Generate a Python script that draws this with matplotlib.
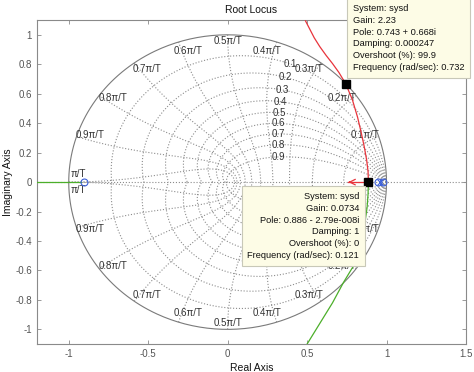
import numpy as np
import matplotlib
matplotlib.use("Agg")
import matplotlib.pyplot as plt

plt.rcParams["font.family"] = ["Liberation Sans", "DejaVu Sans"]

# root locus branches
red_re = [0.886, 0.884, 0.875, 0.860, 0.840, 0.818, 0.785, 0.743, 0.700, 0.660, 0.620, 0.580, 0.545, 0.490]
red_im = [0.000, 0.070, 0.150, 0.240, 0.340, 0.440, 0.560, 0.668, 0.745, 0.805, 0.860, 0.920, 0.980, 1.095]
red_axis_re = [0.886, 0.760]
green_re = [0.886, 0.884, 0.878, 0.865, 0.845, 0.815, 0.786, 0.730, 0.660, 0.580, 0.500]
green_im = [0.000, -0.080, -0.170, -0.270, -0.380, -0.480, -0.580, -0.680, -0.820, -0.960, -1.100]
green_axis_re = [-1.2, -0.925]
zeros_re = [-0.905, 0.945, 0.975]
poles_re = [0.96]
tip_re = [0.743, 0.886]
tip_im = [0.668, 0.0]

zetas = [0.1, 0.2, 0.3, 0.4, 0.5, 0.6, 0.7, 0.8, 0.9]
wn_fracs = [0.1, 0.2, 0.3, 0.4, 0.5, 0.6, 0.7, 0.8, 0.9, 1.0]
wn_labels = ["0.1\u03c0/T", "0.2\u03c0/T", "0.3\u03c0/T", "0.4\u03c0/T", "0.5\u03c0/T",
             "0.6\u03c0/T", "0.7\u03c0/T", "0.8\u03c0/T", "0.9\u03c0/T", "\u03c0/T"]

tip1 = ["System: sysd", "Gain: 2.23", "Pole: 0.743 + 0.668i", "Damping: 0.000247",
        "Overshoot (%): 99.9", "Frequency (rad/sec): 0.732"]
tip2 = ["System: sysd", "Gain: 0.0734", "Pole: 0.886 - 2.79e-008i", "Damping: 1",
        "Overshoot (%): 0", "Frequency (rad/sec): 0.121"]

GRID = "#8c8c8c"
AXC = "#8a8a8a"
TXT = "#333333"

fig = plt.figure(figsize=(4.74, 3.72), dpi=100)
ax = fig.add_axes([0.078, 0.075, 0.905, 0.871])

# zgrid: unit circle
t = np.linspace(0, 2 * np.pi, 400)
ax.plot(np.cos(t), np.sin(t), color="#7a7a7a", lw=0.8, zorder=1)

# constant damping curves
for z in zetas:
    r = np.linspace(0, np.pi / np.sqrt(1 - z**2), 200)
    p = np.exp(-z * r) * np.exp(1j * np.sqrt(1 - z**2) * r)
    ax.plot(p.real, p.imag, ":", color=GRID, lw=0.8, zorder=1)
    ax.plot(p.real, -p.imag, ":", color=GRID, lw=0.8, zorder=1)
    lp = np.exp(-z * 1.12) * np.exp(1j * np.sqrt(1 - z**2) * 1.12)
    ax.text(lp.real, lp.imag, str(z), fontsize=7, color=TXT, ha="center", va="center", zorder=2)

# constant natural frequency curves
zz = np.linspace(0, 1, 200)
for k, lab in zip(wn_fracs, wn_labels):
    wn = k * np.pi
    p = np.exp(-zz * wn) * np.exp(1j * np.sqrt(1 - zz**2) * wn)
    ax.plot(p.real, p.imag, ":", color=GRID, lw=0.8, zorder=1)
    ax.plot(p.real, -p.imag, ":", color=GRID, lw=0.8, zorder=1)
    if k < 1:
        ang = wn + 0.04 * np.sign(np.pi / 2 - wn)
        rad = 0.92 + 0.04 * np.exp(-((wn - np.pi / 2) / 0.2) ** 2)
        lp = rad * np.exp(1j * ang)
        ax.text(lp.real, lp.imag, lab, fontsize=7, color=TXT, ha="center", va="center", zorder=2)
        ax.text(lp.real, -lp.imag, lab, fontsize=7, color=TXT, ha="center", va="center", zorder=2)
    else:
        ax.text(-0.94, 0.055, lab, fontsize=7, color=TXT, ha="center", va="center", zorder=2)
        ax.text(-0.94, -0.055, lab, fontsize=7, color=TXT, ha="center", va="center", zorder=2)

ax.axhline(0, ls=":", color=GRID, lw=0.8, zorder=1)

# root locus branches
ax.plot(red_re, red_im, color="#e8343c", lw=0.9, zorder=3)
ax.plot(red_axis_re, [0, 0], color="#e8343c", lw=0.9, zorder=3)
ax.annotate("", xy=(red_axis_re[1], 0), xytext=(red_axis_re[1] + 0.03, 0),
            arrowprops=dict(arrowstyle="->", color="#e8343c", lw=0.9), zorder=3)
ax.plot(green_re, green_im, color="#4caf2a", lw=0.9, zorder=3)
ax.plot(green_axis_re, [0, 0], color="#4caf2a", lw=0.9, zorder=3)
ax.plot(zeros_re, [0] * len(zeros_re), "o", mfc="none", mec="#3b5fd9", ms=5, mew=0.8, zorder=4)
ax.plot(poles_re, [0] * len(poles_re), "x", color="#3b5fd9", ms=4, mew=0.8, zorder=4)
ax.plot(tip_re, tip_im, "s", color="black", ms=5.5, zorder=5)

ax.set_xlim(-1.2, 1.5)
ax.set_ylim(-1.1, 1.1)
ax.set_xticks([-1, -0.5, 0, 0.5, 1, 1.5])
ax.set_xticklabels(["-1", "-0.5", "0", "0.5", "1", "1.5"])
ax.set_yticks(np.round(np.arange(-1, 1.01, 0.2), 1))
ax.set_yticklabels(["-1", "-0.8", "-0.6", "-0.4", "-0.2", "0", "0.2", "0.4", "0.6", "0.8", "1"])
ax.tick_params(direction="in", top=True, right=True, length=3, width=0.6,
               colors=AXC, labelcolor="#555555", labelsize=7)
for s in ax.spines.values():
    s.set_color(AXC)
    s.set_linewidth(0.8)

ax.set_title("Root Locus", fontsize=7.5, color="#111111", pad=5)
ax.set_xlabel("Real Axis", fontsize=7.5, color="#111111", labelpad=3)
ax.set_ylabel("Imaginary Axis", fontsize=7.5, color="#111111", labelpad=2)

box = dict(boxstyle="square,pad=0.6", fc="#fdfce6", ec="#c8c8b8", lw=0.8)
fig.text(353 / 474, 1 - 4 / 372, "\n".join(tip1), fontsize=6.7, color="#111111",
         ha="left", va="top", linespacing=1.4, bbox=box, zorder=10)
fig.text(359 / 474, 1 - 192 / 372, "\n".join(tip2), fontsize=6.7, color="#111111",
         ha="right", va="top", linespacing=1.4, multialignment="right", bbox=box, zorder=10)

fig.savefig("out.png", dpi=100)
